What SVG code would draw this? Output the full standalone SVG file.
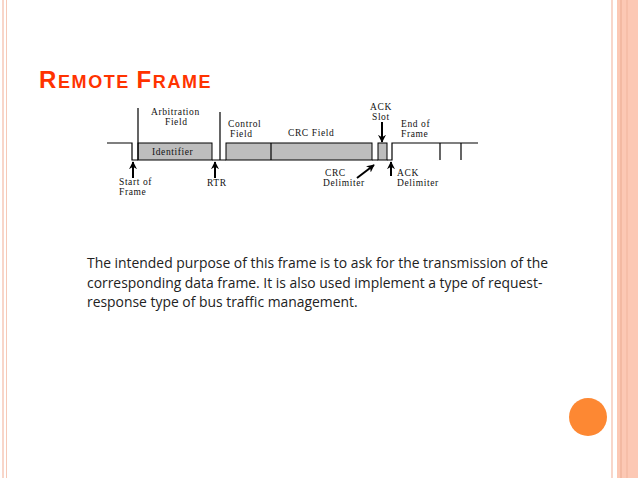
<svg xmlns="http://www.w3.org/2000/svg" width="638" height="478" viewBox="0 0 638 478">
<style>
.l{font-family:"Liberation Serif",serif;font-size:9.5px;fill:#111;letter-spacing:0.6px}
.w{stroke:#000;stroke-width:1.2;fill:none}
.b{fill:#bdbdbd;stroke:#000;stroke-width:1}
.t{font-family:"Open Sans","Liberation Sans",sans-serif;font-size:13.9px;fill:#222}
</style>
<defs><marker id="a" viewBox="0 0 10 10" refX="9" refY="5" markerWidth="4" markerHeight="4" orient="auto"><path d="M0,0L10,5L0,10L3,5z" fill="#000"/></marker></defs>
<rect width="638" height="478" fill="#fff"/>
<line x1="3" y1="0" x2="3" y2="478" stroke="#f6c9b8" stroke-width="1.5"/>
<line x1="6.5" y1="0" x2="6.5" y2="478" stroke="#f6c9b8" stroke-width="1"/>
<line x1="612" y1="0" x2="612" y2="478" stroke="#f6c9b8" stroke-width="1.5"/>
<rect x="617" y="0" width="21" height="478" fill="#fcc8b4"/>
<line x1="621" y1="0" x2="621" y2="478" stroke="#f0b49c" stroke-width="1.5"/>
<line x1="627" y1="0" x2="627" y2="478" stroke="#f0b49c" stroke-width="1"/>
<text x="39" y="88" font-family="Liberation Sans,sans-serif" font-weight="bold" fill="#ff3300" letter-spacing="1.6"><tspan font-size="24">R</tspan><tspan font-size="18">EMOTE </tspan><tspan font-size="24">F</tspan><tspan font-size="18">RAME</tspan></text>
<g id="signal">
<rect class="b" x="138" y="143" width="74" height="17"/>
<rect class="b" x="226" y="143" width="146" height="17"/>
<line class="w" x1="271" y1="143" x2="271" y2="160"/>
<rect class="b" x="378" y="143" width="9" height="17"/>
<path class="w" d="M107,143H132V160H138M212,160H220V160H226M372,160H378M387,160H392V143H478M138,108V160M220,112V160M440,143V160M461,143V160"/>
</g>
<g id="labels">
<text class="l" x="151" y="115">Arbitration</text><text class="l" x="165" y="125">Field</text>
<text class="l" x="228" y="127">Control</text><text class="l" x="230" y="137">Field</text>
<text class="l" x="288" y="136">CRC Field</text>
<text class="l" x="370" y="110">ACK</text><text class="l" x="372" y="120">Slot</text>
<text class="l" x="401" y="127">End of</text><text class="l" x="401" y="137">Frame</text>
<text class="l" x="152" y="155">Identifier</text>
<text class="l" x="119" y="185">Start of</text><text class="l" x="119" y="195">Frame</text>
<text class="l" x="207" y="186">RTR</text>
<text class="l" x="325" y="176">CRC</text><text class="l" x="323" y="186">Delimiter</text>
<text class="l" x="397" y="176">ACK</text><text class="l" x="397" y="186">Delimiter</text>
</g>
<g id="connectors" stroke="#000" stroke-width="2" marker-end="url(#a)">
<line x1="133" y1="178" x2="133" y2="162"/>
<line x1="215" y1="178" x2="215" y2="162"/>
<line x1="382" y1="122" x2="382" y2="142"/>
<line x1="357" y1="178" x2="374" y2="165"/>
<line x1="391" y1="176" x2="391" y2="162"/>
</g>
<text class="t" x="87" y="268">The intended purpose of this frame is to ask for the transmission of the</text>
<text class="t" x="87" y="288">corresponding data frame. It is also used implement a type of request-</text>
<text class="t" x="87" y="307">response type of bus traffic management.</text>
<circle cx="588" cy="417" r="19" fill="#fd8833"/>
</svg>
